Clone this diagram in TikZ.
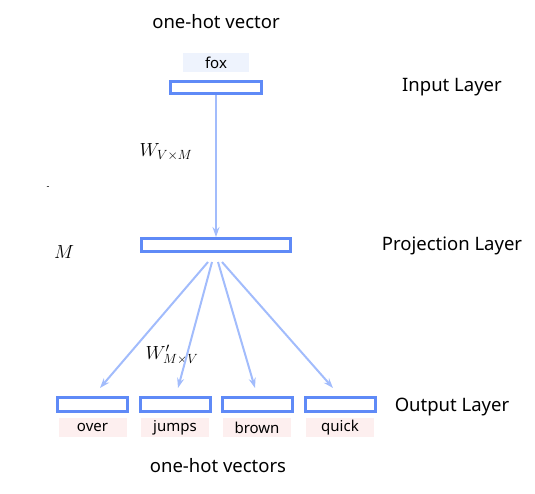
\documentclass[tikz,border=0pt]{standalone}
\usepackage{fix-cm}
\usepackage{fontspec}
\setmainfont{Noto Sans}
\usetikzlibrary{arrows.meta}
\definecolor{boxblue}{HTML}{5F8AF7}
\definecolor{arrowblue}{HTML}{A2BCFC}
\definecolor{foxbg}{HTML}{EEF3FD}
\definecolor{wordbg}{HTML}{FDEFEF}
\begin{document}
\begin{tikzpicture}[x=1pt,y=-1pt,
  layerbox/.style={draw=boxblue,line width=3pt,fill=white,inner sep=0pt},
  wordtag/.style={fill=#1,font=\fontsize{15}{17}\selectfont,minimum width=68pt,minimum height=19pt,inner sep=0pt},
  flow/.style={draw=arrowblue,line width=2pt,-{Stealth[length=10pt,width=7pt]}},
  caption/.style={font=\fontsize{18.5}{21}\selectfont},
  mathlab/.style={font=\fontsize{19}{21}\selectfont}]
\useasboundingbox (0,0) rectangle (535,493);
% input
\node[caption] (topcap) at (216,22) {one-hot vector};
\node[wordtag=foxbg,minimum width=66pt] (fox) at (216,62.5) {fox};
\node[layerbox,minimum width=91pt,minimum height=12pt] (in) at (216,87.5) {};
\node[caption] (inlab) at (452,87) {Input Layer};
\node[mathlab] (wvm) at (166,152) {$W_{V\times M}$};
\node[font=\fontsize{9}{10}\selectfont] (dash) at (48,188) {-};
% projection
\node[layerbox,minimum width=149pt,minimum height=13pt] (proj) at (216,245) {};
\node[caption] (projlab) at (452,246) {Projection Layer};
\node[mathlab] (m) at (64,252) {$M$};
\draw[flow] (in.south) -- (proj.north);
% output
\node[mathlab] (wmv) at (172,355) {$W'_{M\times V}$};
\foreach \i/\x/\w in {1/92.5/over,2/175/jumps,3/257/brown,4/340/quick}{
  \node[layerbox,minimum width=70pt,minimum height=14pt] (out\i) at (\x,404.5) {};
  \node[wordtag=wordbg] (word\i) at (\x,427.5) {\w};
}
\node[caption] (outlab) at (452,407) {Output Layer};
\node[caption] (botcap) at (218,466) {one-hot vectors};
\coordinate (f1) at (208,262);
\coordinate (f2) at (212,262);
\coordinate (f3) at (218,262);
\coordinate (f4) at (222,262);
\coordinate (t1) at (100,388);
\coordinate (t2) at (178,388);
\coordinate (t3) at (255,388);
\coordinate (t4) at (333,388);
\foreach \i in {1,...,4}{\draw[flow] (f\i) -- (t\i);}
\end{tikzpicture}
\end{document}
